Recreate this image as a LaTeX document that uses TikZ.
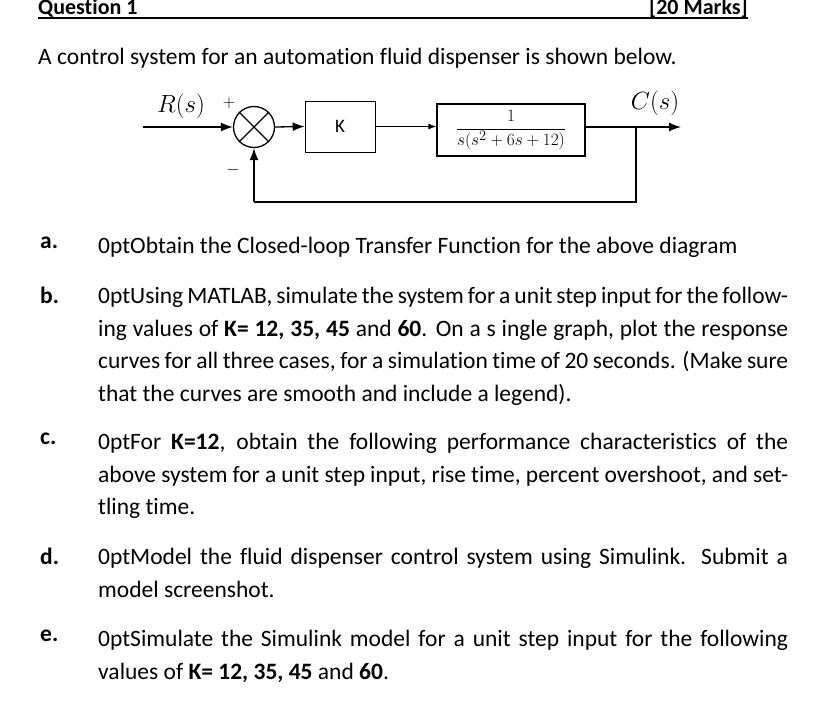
\documentclass[tikz,border=0pt]{standalone}
\usepackage{fontspec}
\setmainfont[RawFeature={-liga}]{Carlito}
\usetikzlibrary{arrows.meta}
\begin{document}
\hyphenpenalty=10000 \exhyphenpenalty=10000
\begin{tikzpicture}[x=1pt,y=-1pt,
  txt/.style={anchor=north west,inner sep=0pt,text width=690pt,align=justify,font=\fontsize{23.5}{32.6}\selectfont\hyphenpenalty=10000 },
  lbl/.style={anchor=north west,inner sep=0pt,font=\fontsize{23.5}{32.6}\selectfont\bfseries},
  arr/.style={-{Latex[length=12pt,width=9pt]},line width=1.3pt},
  ln/.style={line width=1.3pt}]
\useasboundingbox (0,0) rectangle (832,720);
\fill[white] (0,0) rectangle (832,720);
% header
\node[anchor=base west,inner sep=0pt,font=\fontsize{22}{24}\selectfont\bfseries] (q) at (38,14) {Question 1};
\node[anchor=base east,inner sep=0pt,font=\fontsize{22}{24}\selectfont\bfseries] (m) at (748,14) {[20 Marks]};
\draw[line width=1.6pt] (38,18) coordinate (h1) -- (748,18) coordinate (h2);
\node[anchor=west,inner sep=0pt,font=\fontsize{23.5}{24}\selectfont] (t) at (38,58) {A control system for an automation fluid dispenser is shown below.};
% diagram
\coordinate (in) at (143,127);
\node[draw,circle,line width=1.3pt,minimum size=41pt,inner sep=0pt] (sum) at (254,127) {};
\draw[line width=1.3pt] (sum.45) -- (sum.225) (sum.135) -- (sum.315);
\node[draw,line width=0.6pt,minimum width=70pt,minimum height=51pt,inner sep=0pt,font=\fontsize{19}{20}\selectfont] (k) at (340,126.5) {K};
\node[draw,line width=1.3pt,minimum width=148pt,minimum height=52pt,inner sep=0pt] (g) at (511,130)
  {\fontsize{19}{22}\selectfont$\displaystyle\frac{1}{s(s^2+6s+12)}$};
\coordinate (br) at (636,127);
\coordinate (out) at (681,127);
\coordinate (fb1) at (636,202);
\coordinate (fb2) at (254,202);
\draw[arr] (in) -- (sum.west);
\draw[arr] (sum.east) -- (k.west);
\draw[-{Latex[length=8pt,width=6pt]},line width=1pt] (k.east) -- (g.west |- k.east);
\draw[ln] (g.east |- br) -- (br);
\draw[arr] (br) -- (out);
\draw[ln] (br) -- (fb1) -- (fb2);
\draw[arr] (fb2) -- (sum.south);
\node[font=\fontsize{23}{26}\selectfont] (rs) at (181,106) {$R(s)$};
\node[font=\fontsize{23}{26}\selectfont] (cs) at (655,103) {$C(s)$};
\node[font=\fontsize{18}{20}\selectfont] (pl) at (229,103) {$+$};
\node[font=\fontsize{18}{20}\selectfont] (mi) at (233,170) {$-$};
% items
\node[lbl] (la) at (40,237) {a.};
\node[txt] (ia) at (98,237) {Obtain the Closed-loop Transfer Function for the above diagram};
\node[lbl] (lb) at (40,287) {b.};
\node[txt] (ib) at (98,287) {Using MATLAB, simulate the system for a unit step input for the following values of \textbf{K= 12, 35, 45} and \textbf{60}. On a s ingle graph, plot the response curves for all three cases, for a simulation time of 20 seconds. (Make sure that the curves are smooth and include a legend).};
\node[lbl] (lc) at (40,433) {c.};
\node[txt] (ic) at (98,433) {For \textbf{K=12}, obtain the following performance characteristics of the above system for a unit step input, rise time, percent overshoot, and settling time.};
\node[lbl] (ld) at (40,548) {d.};
\node[txt] (id) at (98,548) {Model the fluid dispenser control system using Simulink. Submit a model screenshot.};
\node[lbl] (le) at (40,630) {e.};
\node[txt] (ie) at (98,630) {Simulate the Simulink model for a unit step input for the following values of \textbf{K= 12, 35, 45} and \textbf{60}.};
\end{tikzpicture}
\end{document}
